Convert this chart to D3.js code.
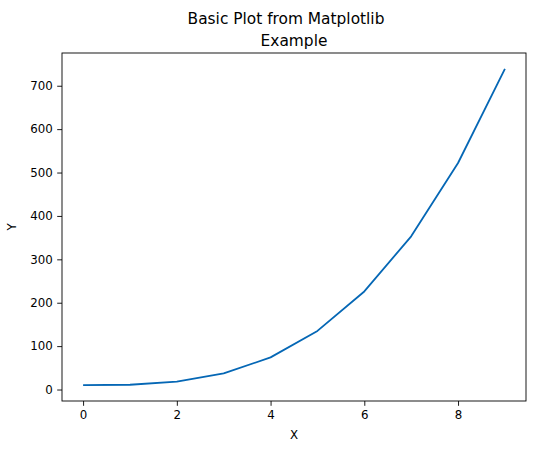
<!DOCTYPE html>
<html>
<head>
<meta charset="utf-8">
<script src="https://cdn.jsdelivr.net/npm/d3@7"></script>
<style>
  body { margin: 0; background: #fff; }
  svg text { font-family: "DejaVu Sans", sans-serif; fill: #000; }
</style>
</head>
<body>
<div id="chart"></div>
<script>
// values
const xValues = [0, 1, 2, 3, 4, 5, 6, 7, 8, 9];
const yValues = [10, 11, 18, 37, 74, 135, 226, 353, 522, 739];
const xTicks = [0, 2, 4, 6, 8];
const yTicks = [0, 100, 200, 300, 400, 500, 600, 700];

const width = 535, height = 450;
const margin = { top: 53, right: 9, bottom: 49, left: 62 };
const plotW = width - margin.left - margin.right;
const plotH = height - margin.top - margin.bottom;
const tickFont = "11.8px";
const titleFont = "15.4px";

const svg = d3.select("#chart")
    .append("svg")
    .attr("width", width)
    .attr("height", height);

const g = svg.append("g")
    .attr("transform", `translate(${margin.left},${margin.top})`);

// matplotlib style 5% padding around data range
const xPad = (d3.max(xValues) - d3.min(xValues)) * 0.05;
const yPad = (d3.max(yValues) - d3.min(yValues)) * 0.05;

const x = d3.scaleLinear()
    .domain([d3.min(xValues) - xPad, d3.max(xValues) + xPad])
    .range([0, plotW]);
const y = d3.scaleLinear()
    .domain([d3.min(yValues) - yPad, d3.max(yValues) + yPad])
    .range([plotH, 0]);

// axes
const xAxis = g.append("g")
    .attr("transform", `translate(0,${plotH})`)
    .call(d3.axisBottom(x).tickValues(xTicks).tickSize(4.8).tickPadding(4.8).tickFormat(d3.format("d")));
const yAxis = g.append("g")
    .call(d3.axisLeft(y).tickValues(yTicks).tickSize(4.8).tickPadding(4.5).tickFormat(d3.format("d")));

[xAxis, yAxis].forEach(a => {
    a.select(".domain").remove();
    a.selectAll("line").attr("stroke", "#000").attr("stroke-width", 0.9);
    a.selectAll("text").attr("font-size", tickFont).attr("font-family", "DejaVu Sans, sans-serif");
});

// data line
const line = d3.line()
    .x((d, i) => x(xValues[i]))
    .y(d => y(d));

g.append("path")
    .datum(yValues)
    .attr("fill", "none")
    .attr("stroke", "#0567b5")
    .attr("stroke-width", 1.8)
    .attr("stroke-linejoin", "round")
    .attr("d", line);

// frame
g.append("rect")
    .attr("width", plotW)
    .attr("height", plotH)
    .attr("fill", "none")
    .attr("stroke", "#000")
    .attr("stroke-width", 0.9);

// titles
svg.append("text")
    .attr("x", 286)
    .attr("y", 23.5)
    .attr("text-anchor", "middle")
    .attr("font-size", titleFont)
    .text("Basic Plot from Matplotlib");

svg.append("text")
    .attr("x", margin.left + plotW / 2)
    .attr("y", 45.5)
    .attr("text-anchor", "middle")
    .attr("font-size", titleFont)
    .text("Example");

// axis labels
svg.append("text")
    .attr("x", margin.left + plotW / 2)
    .attr("y", 438.5)
    .attr("text-anchor", "middle")
    .attr("font-size", tickFont)
    .text("X");

svg.append("text")
    .attr("transform", `translate(15.5,${margin.top + plotH / 2}) rotate(-90)`)
    .attr("text-anchor", "middle")
    .attr("font-size", tickFont)
    .text("Y");
</script>
</body>
</html>
